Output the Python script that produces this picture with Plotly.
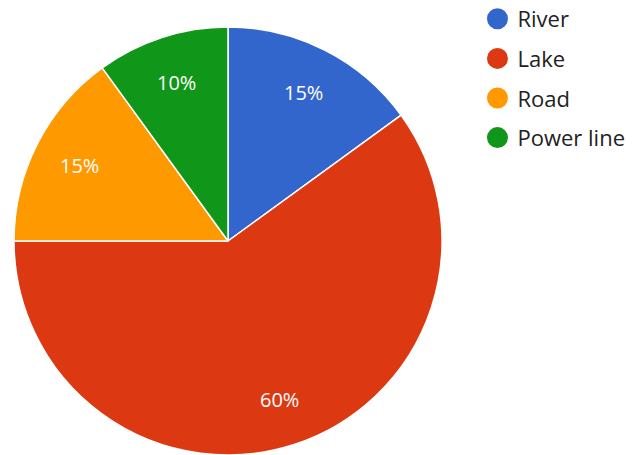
import math
import plotly.graph_objects as go

labels = ["River", "Lake", "Road", "Power line"]
values = [15, 60, 15, 10]
colors = ["#3366CC", "#DC3912", "#FF9900", "#109618"]

W, H = 637, 455
OFF = 8  # page body margin offset
CX, CY, R = 228 - OFF, 241 - OFF, 214  # pie centre / radius in figure pixels (layout)

fig = go.Figure()
fig.add_trace(go.Pie(
    labels=labels, values=values, sort=False, direction="clockwise", rotation=0,
    marker=dict(colors=colors, line=dict(color="white", width=1.5)),
    textinfo="none",
    showlegend=False, hoverinfo="label+percent",
    domain=dict(x=[(CX - R) / W, (CX + R) / W], y=[(H - CY - R) / H, (H - CY + R) / H]),
))
for i, (lab, col) in enumerate(zip(labels, colors)):
    fig.add_trace(go.Scatter(
        x=[None], y=[None], mode="markers", name=lab, legendgroup=f"g{i}",
        marker=dict(symbol="circle", size=16, color=col, line=dict(color=col, width=8)),
    ))

# percentage labels placed inside slices
total = sum(values)
cum = 0
annotations = []
for v in values:
    mid = (cum + v / 2) / total * 2 * math.pi
    cum += v
    px = CX + 0.78 * R * math.sin(mid)
    py = CY - 0.78 * R * math.cos(mid)
    annotations.append(dict(
        x=px / W, y=1 - py / H, xref="paper", yref="paper", showarrow=False,
        text=f"{round(v / total * 100)}%", xanchor="center", yanchor="middle",
        font=dict(color="white", size=20, family="Open Sans"),
    ))

fig.update_layout(
    width=W, height=H, margin=dict(l=0, r=0, t=0, b=0, autoexpand=False),
    paper_bgcolor="white", plot_bgcolor="white",
    xaxis=dict(visible=False), yaxis=dict(visible=False),
    annotations=annotations,
    legend=dict(x=0.737, y=1.022, xanchor="left", yanchor="top", yref="paper",
                font=dict(size=22, color="#222222", family="Open Sans"),
                tracegroupgap=8, itemsizing="trace", bgcolor="rgba(0,0,0,0)"),
)
fig.write_html("out.html")
